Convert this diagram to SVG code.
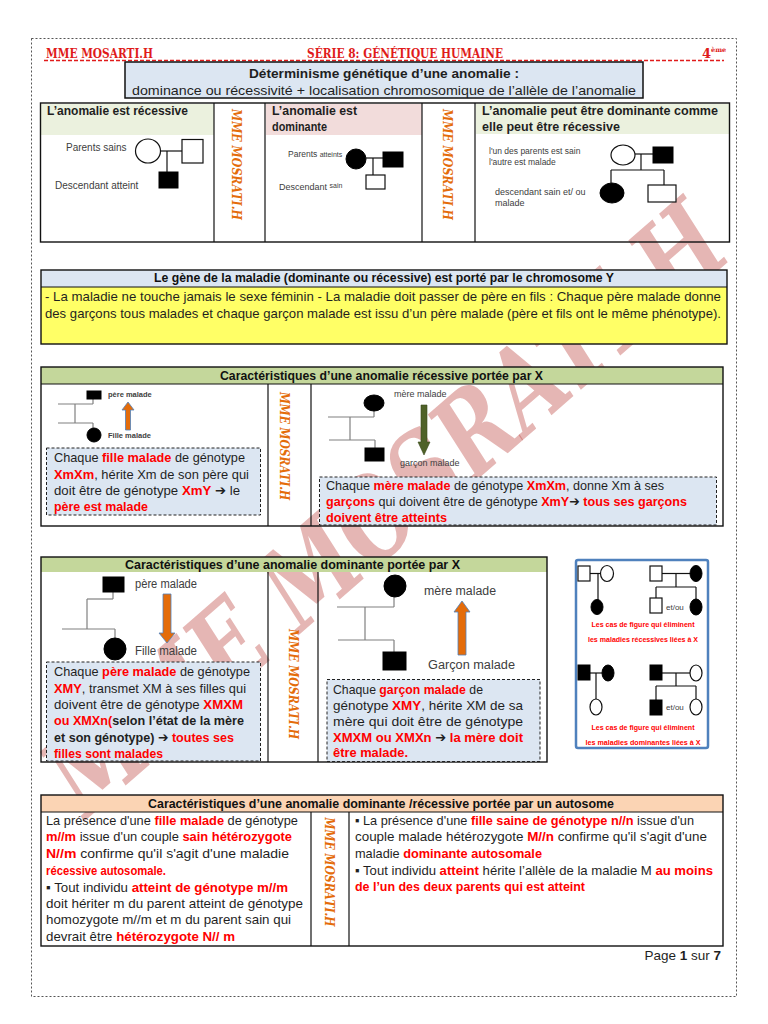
<svg xmlns="http://www.w3.org/2000/svg" width="768" height="1024" viewBox="0 0 768 1024">
<style>
.t{font-family:'Liberation Sans','DejaVu Sans',sans-serif;font-size:13.5px;fill:#1f1f1f}
.b{font-weight:bold}
.r{fill:#ff0000;font-weight:bold}
.hd{font-family:'Liberation Sans','DejaVu Sans',sans-serif;font-weight:bold;font-size:12.5px;fill:#111}
.lbl{font-family:'Liberation Sans','DejaVu Sans',sans-serif;fill:#404040}
.wm{font-family:'DejaVu Serif',serif;font-weight:bold;font-style:italic;font-size:13px;fill:#e46c0a}
.cell{fill:none;stroke:#111;stroke-width:1.4}
.dbox{fill:#dce6f2;stroke:#222;stroke-width:1;stroke-dasharray:3,2}
.pl{stroke:#808080;stroke-width:1.2;fill:none}
.pk{stroke:#111;stroke-width:1.2;fill:none}
.sw{fill:#fff;stroke:#111;stroke-width:1.2}
.sb{fill:#000;stroke:#000;stroke-width:1}
.hdr{font-family:'DejaVu Serif',serif;font-weight:bold;fill:#e01b1b}
.rb{font-family:'Liberation Sans','DejaVu Sans',sans-serif;font-size:8px;fill:#ff0000;font-weight:bold}
</style>
<rect width="768" height="1024" fill="#fff"/>
<rect x="31.5" y="38.5" width="705" height="958" fill="none" stroke="#555" stroke-width="1" stroke-dasharray="2,2"/>

<!-- big diagonal watermark -->
<g id="watermark">
<text x="86" y="820" transform="rotate(-41 86 820)" font-family="'DejaVu Serif',serif" font-weight="bold" font-style="italic" font-size="112" fill="#c0504d" fill-opacity="0.42" textLength="860" lengthAdjust="spacingAndGlyphs">MME MOSRATI.H</text>
</g>

<!-- header -->
<g id="header">
<text class="hdr" x="46" y="58" font-size="12.5" textLength="107" lengthAdjust="spacingAndGlyphs">MME MOSARTI.H</text>
<text class="hdr" x="307" y="58" font-size="12.5" textLength="196" lengthAdjust="spacingAndGlyphs">SÉRIE 8: GÉNÉTIQUE HUMAINE</text>
<text class="hdr" x="702" y="58" font-size="13">4<tspan font-size="6.5" dy="-6">ème</tspan></text>
<line x1="44" y1="60.5" x2="724" y2="60.5" stroke="#e01b1b" stroke-width="1.3" stroke-dasharray="4,2"/>
</g>

<g id="title">
<rect x="125" y="62" width="518" height="36" fill="#dce6f2" stroke="#111" stroke-width="1.5"/>
<text class="t b" x="384" y="78" text-anchor="middle" font-size="14" textLength="270" lengthAdjust="spacingAndGlyphs">Déterminisme génétique d’une anomalie :</text>
<text class="t" x="384" y="95" text-anchor="middle" font-size="14" textLength="504" lengthAdjust="spacingAndGlyphs">dominance ou récessivité + localisation chromosomique de l’allèle de l’anomalie</text>
</g>

<!-- section 1 -->
<g id="sec1">
<rect x="41" y="104" width="173" height="31" fill="#ebf1de"/>
<rect x="266" y="104" width="156" height="31" fill="#f2dcdb"/>
<rect x="476" y="104" width="253" height="30" fill="#ebf1de"/>
<rect class="cell" x="40.5" y="103" width="689" height="139"/>
<line class="pk" x1="214" y1="103" x2="214" y2="242"/>
<line class="pk" x1="265" y1="103" x2="265" y2="242"/>
<line class="pk" x1="422" y1="103" x2="422" y2="242"/>
<line class="pk" x1="475" y1="103" x2="475" y2="242"/>
<text class="t b" x="47" y="115" font-size="13" textLength="141" lengthAdjust="spacingAndGlyphs">L’anomalie est récessive</text>
<text class="t b" x="272" y="115" font-size="13" textLength="85" lengthAdjust="spacingAndGlyphs">L’anomalie est</text>
<text class="t b" x="272" y="131" font-size="13" textLength="55" lengthAdjust="spacingAndGlyphs">dominante</text>
<text class="t b" x="482" y="115" font-size="13" textLength="236" lengthAdjust="spacingAndGlyphs">L’anomalie peut être dominante comme</text>
<text class="t b" x="482" y="131" font-size="13" textLength="138" lengthAdjust="spacingAndGlyphs">elle peut être récessive</text>
<text class="wm" transform="translate(232 164.5) rotate(90)" text-anchor="middle" textLength="111" lengthAdjust="spacingAndGlyphs">MME MOSRATI.H</text>
<text class="wm" transform="translate(443 164.5) rotate(90)" text-anchor="middle" textLength="111" lengthAdjust="spacingAndGlyphs">MME MOSRATI.H</text>
</g>

<g id="ped-recessive">
<text class="lbl" x="66" y="151" font-size="10">Parents sains</text>
<text class="lbl" x="55" y="189" font-size="10">Descendant atteint</text>
<g class="pk"><line x1="161" y1="151" x2="182" y2="151"/><line x1="167" y1="151" x2="167" y2="172"/></g>
<ellipse class="sw" cx="148" cy="151" rx="12.5" ry="12"/>
<rect class="sw" x="182" y="139.5" width="21" height="23.5"/>
<rect class="sb" x="159" y="172" width="19" height="16"/>
</g>
<g id="ped-dominant">
<text class="lbl" x="288" y="157" font-size="8.5">Parents <tspan font-size="7">atteints</tspan></text>
<text class="lbl" x="279" y="190" font-size="9">Descendant <tspan font-size="7" dy="-2">sain</tspan></text>
<g class="pk"><line x1="366" y1="158" x2="383" y2="158"/><line x1="373" y1="158" x2="373" y2="175"/></g>
<ellipse class="sb" cx="356" cy="159" rx="10" ry="10"/>
<rect class="sb" x="383" y="152" width="20" height="15"/>
<rect class="sw" x="366" y="175" width="19" height="14"/>
</g>
<g id="ped-both">
<text class="lbl" x="489" y="154" font-size="8.5">l'un des parents est sain</text>
<text class="lbl" x="489" y="165" font-size="8.5">l'autre est malade</text>
<text class="lbl" x="495" y="195" font-size="9">descendant sain et/ ou</text>
<text class="lbl" x="495" y="206" font-size="9">malade</text>
<g class="pk"><line x1="635" y1="154" x2="653" y2="154"/><line x1="641" y1="154" x2="641" y2="170"/><line x1="611" y1="170" x2="664" y2="170"/><line x1="611" y1="170" x2="611" y2="183"/><line x1="664" y1="170" x2="664" y2="185"/></g>
<ellipse class="sw" cx="623" cy="155" rx="12" ry="10"/>
<rect class="sb" x="653" y="147" width="20" height="16"/>
<ellipse class="sb" cx="612" cy="193" rx="12" ry="10"/>
<rect class="sw" x="648" y="185" width="28" height="17"/>
</g>

<!-- Y section -->
<g id="secY">
<rect x="41" y="287" width="686" height="57" fill="#ffff66"/>
<rect x="41" y="270" width="686" height="17" fill="#dce6f2"/>
<rect class="cell" x="41" y="270" width="686" height="74"/>
<line class="pk" x1="41" y1="287" x2="727" y2="287"/>
<text class="hd" x="384" y="282" text-anchor="middle" font-size="12" textLength="460" lengthAdjust="spacingAndGlyphs">Le gène de la maladie (dominante ou récessive) est porté par le chromosome Y</text>
<text class="t" x="45" y="301" textLength="676" lengthAdjust="spacingAndGlyphs">- La maladie ne touche jamais le sexe féminin - La maladie doit passer de père en fils : Chaque père malade donne</text>
<text class="t" x="45" y="318" textLength="676" lengthAdjust="spacingAndGlyphs">des garçons tous malades et chaque garçon malade est issu d’un père malade (père et fils ont le même phénotype).</text>
</g>

<!-- X recessive -->
<g id="secXrec">
<rect x="41" y="367" width="682" height="17" fill="#c4d79b"/>
<rect class="cell" x="41" y="367" width="682" height="159"/>
<line class="pk" x1="41" y1="384" x2="723" y2="384"/>
<line class="pk" x1="268" y1="384" x2="268" y2="526"/>
<line class="pk" x1="311" y1="384" x2="311" y2="526"/>
<text class="hd" x="220" y="380" textLength="323" lengthAdjust="spacingAndGlyphs">Caractéristiques d’une anomalie récessive portée par X</text>
<text class="wm" transform="translate(280 446) rotate(90)" text-anchor="middle" textLength="108" lengthAdjust="spacingAndGlyphs">MME MOSRATI.H</text>
</g>
<g id="ped-xrec-left">
<g class="pl"><line x1="93" y1="399" x2="93" y2="404"/><line x1="58" y1="404" x2="93" y2="404"/><line x1="75" y1="404" x2="75" y2="423"/><line x1="58" y1="423" x2="93" y2="423"/><line x1="93" y1="423" x2="93" y2="429"/></g>
<rect class="sb" x="87" y="391" width="14" height="8"/>
<circle class="sb" cx="94" cy="435" r="7"/>
<text class="lbl b" x="108" y="397" font-size="7.5">père malade</text>
<text class="lbl b" x="108" y="438" font-size="7.5">Fille malade</text>
<polygon points="128,402 134,410 130.5,410 130.5,430 125.5,430 125.5,410 122,410" fill="#e46c0a" stroke="#4f81bd" stroke-width="0.8"/>
</g>
<g id="box-xrec-left">
<rect class="dbox" x="46.5" y="448" width="214" height="67"/>
<text class="t" x="54" y="462" textLength="191" lengthAdjust="spacingAndGlyphs">Chaque <tspan class="r">fille malade</tspan> de génotype</text>
<text class="t" x="54" y="479" textLength="195" lengthAdjust="spacingAndGlyphs"><tspan class="r">XmXm</tspan>, hérite Xm de son père qui</text>
<text class="t" x="54" y="495" textLength="186" lengthAdjust="spacingAndGlyphs">doit être de génotype <tspan class="r">XmY</tspan> <tspan class="b">➔</tspan> le</text>
<text class="t" x="54" y="511" textLength="94" lengthAdjust="spacingAndGlyphs"><tspan class="r">père est malade</tspan></text>
</g>
<g id="ped-xrec-right">
<g class="pl"><line x1="374" y1="410" x2="374" y2="417"/><line x1="328" y1="417" x2="374" y2="417"/><line x1="350" y1="417" x2="350" y2="440"/><line x1="329" y1="440" x2="375" y2="440"/><line x1="375" y1="440" x2="375" y2="448"/></g>
<ellipse class="sb" cx="374" cy="403" rx="10" ry="8"/>
<rect class="sb" x="365" y="448" width="19" height="13"/>
<text class="lbl" x="394" y="397" font-size="9">mère malade</text>
<text class="lbl" x="400" y="466" font-size="9">garçon malade</text>
<polygon points="421,405 427,405 427,442 430,442 424,455 418,442 421,442" fill="#4f6228" stroke="#3a4a1d" stroke-width="0.6"/>
</g>
<g id="box-xrec-right">
<rect class="dbox" x="319.5" y="477" width="397" height="48"/>
<text class="t" x="326" y="490" textLength="338" lengthAdjust="spacingAndGlyphs">Chaque <tspan class="r">mère malade</tspan> de génotype <tspan class="r">XmXm</tspan>, donne Xm à ses</text>
<text class="t" x="326" y="506" textLength="361" lengthAdjust="spacingAndGlyphs"><tspan class="r">garçons</tspan> qui doivent être de génotype <tspan class="r">XmY</tspan><tspan class="b">➔</tspan> <tspan class="r">tous ses garçons</tspan></text>
<text class="t" x="326" y="522" textLength="121" lengthAdjust="spacingAndGlyphs"><tspan class="r">doivent être atteints</tspan></text>
</g>

<!-- X dominant -->
<g id="secXdom">
<rect x="41" y="557" width="506" height="15" fill="#c4d79b"/>
<rect class="cell" x="41" y="557" width="506" height="205"/>
<line class="pk" x1="268" y1="572" x2="268" y2="762"/>
<line class="pk" x1="318" y1="572" x2="318" y2="762"/>
<text class="hd" x="125" y="569" textLength="335" lengthAdjust="spacingAndGlyphs">Caractéristiques d’une anomalie dominante portée par X</text>
<text class="wm" transform="translate(289 684) rotate(90)" text-anchor="middle" textLength="110" lengthAdjust="spacingAndGlyphs">MME MOSRATI.H</text>
</g>
<g id="ped-xdom-left">
<g class="pl"><line x1="113" y1="592" x2="113" y2="599"/><line x1="87" y1="599" x2="113" y2="599"/><line x1="87" y1="599" x2="87" y2="629"/><line x1="62" y1="629" x2="115" y2="629"/><line x1="115" y1="629" x2="115" y2="639"/></g>
<rect class="sb" x="103" y="577" width="21" height="15"/>
<circle class="sb" cx="115" cy="649" r="11"/>
<text class="lbl" x="135" y="588" font-size="12" fill="#333" textLength="62" lengthAdjust="spacingAndGlyphs">père malade</text>
<text class="lbl" x="135" y="655" font-size="12" fill="#333" textLength="62" lengthAdjust="spacingAndGlyphs">Fille malade</text>
<polygon points="163,594 171,594 171,633 175,633 167,643 159,633 163,633" fill="#e46c0a" stroke="#4f81bd" stroke-width="0.8"/>
</g>
<g id="box-xdom-left">
<rect class="dbox" x="46.5" y="662" width="214" height="99"/>
<text class="t" x="54" y="676" textLength="196" lengthAdjust="spacingAndGlyphs">Chaque <tspan class="r">père malade</tspan> de génotype</text>
<text class="t" x="54" y="693" textLength="192" lengthAdjust="spacingAndGlyphs"><tspan class="r">XMY</tspan>, transmet XM à ses filles qui</text>
<text class="t" x="54" y="709" textLength="189" lengthAdjust="spacingAndGlyphs">doivent être de génotype <tspan class="r">XMXM</tspan></text>
<text class="t" x="54" y="725" textLength="190" lengthAdjust="spacingAndGlyphs"><tspan class="r">ou XMXn(</tspan><tspan class="b">selon l’état de la mère</tspan></text>
<text class="t" x="54" y="742" textLength="180" lengthAdjust="spacingAndGlyphs"><tspan class="b">et son génotype) ➔ </tspan><tspan class="r">toutes ses</tspan></text>
<text class="t" x="54" y="758" textLength="109" lengthAdjust="spacingAndGlyphs"><tspan class="r">filles sont malades</tspan></text>
</g>
<g id="ped-xdom-right">
<g class="pl"><line x1="394" y1="597" x2="394" y2="607"/><line x1="337" y1="607" x2="394" y2="607"/><line x1="365" y1="607" x2="365" y2="640"/><line x1="338" y1="640" x2="394" y2="640"/><line x1="394" y1="640" x2="394" y2="652"/></g>
<circle class="sb" cx="395" cy="586" r="11"/>
<rect class="sb" x="383" y="652" width="23" height="18"/>
<text class="lbl" x="424" y="595" font-size="12.5" fill="#333" textLength="72" lengthAdjust="spacingAndGlyphs">mère malade</text>
<text class="lbl" x="428" y="669" font-size="12.5" fill="#333" textLength="87" lengthAdjust="spacingAndGlyphs">Garçon  malade</text>
<polygon points="462,601 470,612 466,612 466,655 458,655 458,612 454,612" fill="#e46c0a" stroke="#4f81bd" stroke-width="0.8"/>
</g>
<g id="box-xdom-right">
<rect class="dbox" x="327" y="679.5" width="213" height="82"/>
<text class="t" x="333" y="694" textLength="150" lengthAdjust="spacingAndGlyphs">Chaque <tspan class="r">garçon malade</tspan> de</text>
<text class="t" x="333" y="710" textLength="190" lengthAdjust="spacingAndGlyphs">génotype <tspan class="r">XMY</tspan>, hérite XM de sa</text>
<text class="t" x="333" y="726" textLength="190" lengthAdjust="spacingAndGlyphs">mère qui doit être de génotype</text>
<text class="t" x="333" y="742" textLength="190" lengthAdjust="spacingAndGlyphs"><tspan class="r">XMXM ou XMXn</tspan> <tspan class="b">➔</tspan> <tspan class="r">la mère doit</tspan></text>
<text class="t" x="333" y="757" textLength="75" lengthAdjust="spacingAndGlyphs"><tspan class="r">être malade.</tspan></text>
</g>

<!-- blue box -->
<g id="blue-box">
<rect x="576" y="560" width="132" height="188" rx="2" fill="#fff" stroke="#4f81bd" stroke-width="2.5"/>
<g class="pk">
<line x1="590" y1="573.5" x2="600" y2="573.5"/><line x1="598" y1="573.5" x2="598" y2="600"/>
<line x1="662" y1="573.5" x2="690" y2="573.5"/><line x1="676" y1="573.5" x2="676" y2="587"/><line x1="656" y1="587" x2="696" y2="587"/><line x1="656" y1="587" x2="656" y2="598"/><line x1="696" y1="587" x2="696" y2="599"/>
<line x1="590" y1="673" x2="602" y2="673"/><line x1="596" y1="673" x2="596" y2="699"/>
<line x1="662" y1="673" x2="690" y2="673"/><line x1="676" y1="673" x2="676" y2="686"/><line x1="656" y1="686" x2="696" y2="686"/><line x1="656" y1="686" x2="656" y2="700"/><line x1="696" y1="686" x2="696" y2="699"/>
</g>
<rect class="sw" x="578" y="566" width="12" height="15"/>
<ellipse class="sw" cx="607" cy="573.5" rx="6.5" ry="8"/>
<ellipse class="sb" cx="597" cy="607" rx="6" ry="7.5"/>
<rect class="sw" x="650" y="566" width="12" height="15"/>
<ellipse class="sb" cx="696" cy="573.5" rx="6" ry="8"/>
<rect class="sw" x="650" y="598" width="12" height="15"/>
<ellipse class="sb" cx="696" cy="607" rx="6" ry="8"/>
<text class="lbl" x="666" y="610" font-size="8" fill="#111">et/ou</text>
<text class="rb" x="643" y="627" text-anchor="middle" textLength="103" lengthAdjust="spacingAndGlyphs">Les cas de figure qui éliminent</text>
<text class="rb" x="643" y="642" text-anchor="middle" textLength="110" lengthAdjust="spacingAndGlyphs">les maladies récessives liées à X</text>
<rect class="sb" x="578" y="665" width="12" height="15"/>
<ellipse class="sb" cx="608" cy="673" rx="6" ry="8"/>
<ellipse class="sw" cx="596" cy="707" rx="6" ry="8"/>
<rect class="sb" x="650" y="665" width="12" height="15"/>
<ellipse class="sw" cx="696" cy="673" rx="6" ry="8"/>
<rect class="sb" x="650" y="700" width="12" height="15"/>
<ellipse class="sw" cx="696" cy="707" rx="6" ry="8"/>
<text class="lbl" x="666" y="710" font-size="8" fill="#111">et/ou</text>
<text class="rb" x="643" y="730" text-anchor="middle" textLength="103" lengthAdjust="spacingAndGlyphs">Les cas de figure qui éliminent</text>
<text class="rb" x="643" y="745" text-anchor="middle" textLength="115" lengthAdjust="spacingAndGlyphs">les maladies dominantes liées à X</text>
</g>

<!-- autosome -->
<g id="secAuto">
<rect x="41" y="795" width="682" height="17" fill="#fbd4b4"/>
<rect class="cell" x="41" y="795" width="682" height="151"/>
<line class="pk" x1="41" y1="812" x2="723" y2="812"/>
<line class="pk" x1="311" y1="812" x2="311" y2="946"/>
<line class="pk" x1="349" y1="812" x2="349" y2="946"/>
<text class="hd" x="148" y="808" textLength="466" lengthAdjust="spacingAndGlyphs">Caractéristiques d’une anomalie dominante /récessive portée par un autosome</text>
<text class="wm" transform="translate(325 872) rotate(90)" text-anchor="middle" textLength="109" lengthAdjust="spacingAndGlyphs">MME MOSRATI.H</text>
</g>
<g id="auto-left">
<text class="t" x="46" y="825" textLength="252" lengthAdjust="spacingAndGlyphs">La présence d'une <tspan class="r">fille malade</tspan> de génotype</text>
<text class="t" x="46" y="841" textLength="246" lengthAdjust="spacingAndGlyphs"><tspan class="r">m//m</tspan> issue d'un couple <tspan class="r">sain hétérozygote</tspan></text>
<text class="t" x="46" y="858" textLength="243" lengthAdjust="spacingAndGlyphs"><tspan class="r">N//m</tspan> confirme qu'il s'agit d'une maladie</text>
<text class="t" x="46" y="875" textLength="120" lengthAdjust="spacingAndGlyphs"><tspan class="r">récessive autosomale.</tspan></text>
<text class="t" x="46" y="892" textLength="242" lengthAdjust="spacingAndGlyphs">▪ Tout individu <tspan class="r">atteint de génotype m//m</tspan></text>
<text class="t" x="46" y="908" textLength="257" lengthAdjust="spacingAndGlyphs">doit hériter m du parent atteint de génotype</text>
<text class="t" x="46" y="924" textLength="245" lengthAdjust="spacingAndGlyphs">homozygote m//m et m du parent sain qui</text>
<text class="t" x="46" y="941" textLength="189" lengthAdjust="spacingAndGlyphs">devrait être <tspan class="r">hétérozygote N// m</tspan></text>
</g>
<g id="auto-right">
<text class="t" x="355" y="825" textLength="339" lengthAdjust="spacingAndGlyphs">▪ La présence d'une <tspan class="r">fille saine de génotype n//n</tspan> issue d'un</text>
<text class="t" x="355" y="841" textLength="352" lengthAdjust="spacingAndGlyphs">couple malade hétérozygote <tspan class="r">M//n</tspan> confirme qu'il s'agit d'une</text>
<text class="t" x="355" y="858" textLength="187" lengthAdjust="spacingAndGlyphs">maladie <tspan class="r">dominante autosomale</tspan></text>
<text class="t" x="355" y="875" textLength="358" lengthAdjust="spacingAndGlyphs">▪ Tout individu <tspan class="r">atteint</tspan> hérite l’allèle de la maladie M <tspan class="r">au moins</tspan></text>
<text class="t" x="355" y="891" textLength="230" lengthAdjust="spacingAndGlyphs"><tspan class="r">de l’un des deux parents qui est atteint</tspan></text>
</g>

<g id="footer">
<text class="t" x="721" y="960" text-anchor="end" font-size="12.5">Page <tspan class="b">1</tspan> sur <tspan class="b">7</tspan></text>
</g>
</svg>
